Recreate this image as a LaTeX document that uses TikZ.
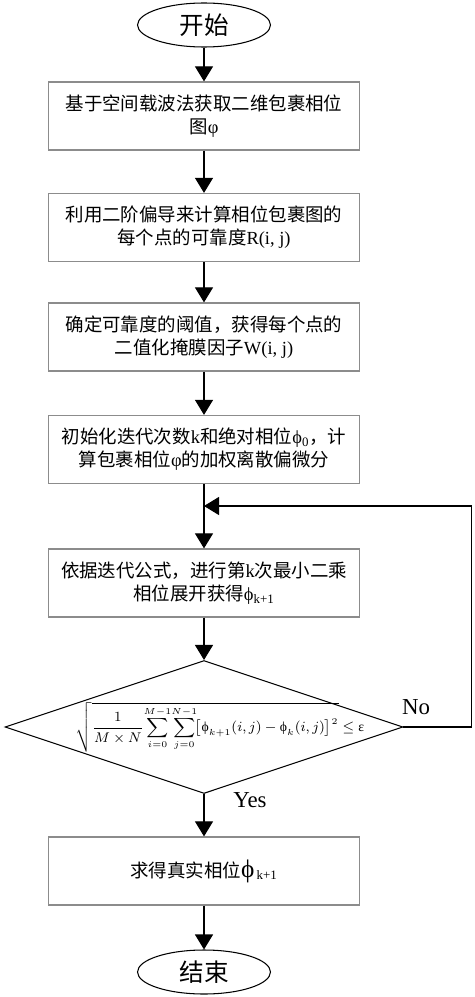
\documentclass[tikz,border=0pt]{standalone}
\usepackage{amsmath}
\usepackage{fontspec}
\setmainfont{Liberation Serif}
\newfontfamily\cjk{Noto Sans CJK SC}
\usetikzlibrary{arrows.meta,shapes.geometric}
\definecolor{boxgray}{HTML}{8C8C8C}

\tikzset{
  procbox/.style={draw=boxgray, line width=0.7pt, rectangle, minimum width=6.22cm,
    minimum height=1.36cm, align=center, font=\fontsize{10.5}{13}\selectfont},
  termnode/.style={draw, ellipse, line width=0.6pt, minimum width=2.66cm,
    minimum height=0.88cm, inner sep=0pt, font=\cjk\fontsize{14}{16}\selectfont},
  decnode/.style={draw, diamond, line width=0.6pt, minimum width=7.96cm,
    minimum height=2.66cm, inner sep=0pt},
  flow/.style={line width=0.6pt, -{Triangle[width=0.36cm,length=0.3cm]}},
  lbl/.style={font=\fontsize{13}{15}\selectfont}
}

\begin{document}
\begin{tikzpicture}[x=0.02cm, y=-0.02cm]
  \useasboundingbox (0,0) rectangle (474,997);

  \node[termnode] (start) at (204,25) {开始};

  % process steps
  \foreach \name/\y/\txt in {
    b1/116/{{\cjk 基于空间载波法获取二维包裹相位}\\{\cjk 图}φ},
    b2/227.5/{{\cjk 利用二阶偏导来计算相位包裹图的}\\{\cjk 每个点的可靠度}R(i, j)},
    b3/337/{{\cjk 确定可靠度的阈值，获得每个点的}\\{\cjk 二值化掩膜因子}W(i, j)},
    b4/449.5/{{\cjk 初始化迭代次数}k{\cjk 和绝对相位}ϕ\textsubscript{0}{\cjk ，计}\\{\cjk 算包裹相位}φ{\cjk 的加权离散偏微分}},
    b5/583/{{\cjk 依据迭代公式，进行第}k{\cjk 次最小二乘}\\{\cjk 相位展开获得}ϕ\textsubscript{k+1}}} {
    \node[procbox] (\name) at (204,\y) {\txt};
  }

  \node[decnode] (dec) at (204,727) {};
  \node[font=\fontsize{7.8}{9.5}\selectfont, inner sep=0pt] (crit) at (220,727)
    {$\displaystyle\sqrt{\frac{1}{M\times N}\!\sum_{i=0}^{M-1}\!\sum_{j=0}^{N-1}\!
    \bigl[\text{ϕ}_{k+1}(i,j)-\text{ϕ}_{k}(i,j)\bigr]^2}\le\text{ε}$};

  \node[procbox] (b6) at (204,871) {{\cjk 求得真实相位}{\Large ϕ}\textsubscript{\,k+1}};
  \node[termnode] (stop) at (204,972) {结束};

  % connectors
  \foreach \a/\b in {start/b1, b1/b2, b2/b3, b3/b4, b4/b5, b5/dec, dec/b6, b6/stop}
    \draw[flow] (\a.south) -- (\b.north);

  % loop back
  \coordinate (join) at (204,506);
  \draw[flow] (dec.east) -- ++(68,0) |- (join);

  \node[lbl] (no) at (416,707) {No};
  \node[lbl] (yes) at (250,800) {Yes};
\end{tikzpicture}
\end{document}
